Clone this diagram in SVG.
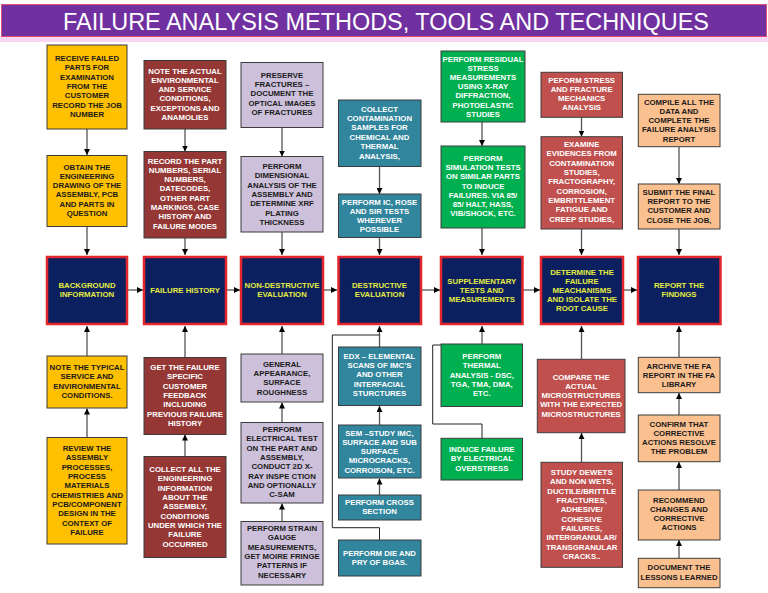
<svg xmlns="http://www.w3.org/2000/svg" width="768" height="593" viewBox="0 0 768 593">
<defs>
<marker id="ah" viewBox="0 0 6 6" refX="6" refY="3" markerWidth="6" markerHeight="6" markerUnits="userSpaceOnUse" orient="auto"><path d="M0,0 L6,3 L0,6 z" fill="#000"/></marker>
<style>
text{font-family:"Liberation Sans",Arial,sans-serif;font-weight:bold;font-size:7.8px;text-anchor:middle}
.b{stroke:#3c3c3c;stroke-width:1}
.yl{fill:#FFC000}.dr{fill:#953735}.lv{fill:#CCC0DA}.tl{fill:#31859C}.gn{fill:#00B050}.rd{fill:#C0504D}.pc{fill:#FAC090}
.mn{fill:#0C1F5E;stroke:#E3262B;stroke-width:2.5}
.tw{fill:#fff}.tk{fill:#1a1a1a}.ty{fill:#E4EC42}
.c{stroke:#555;stroke-width:1.3;fill:none}
.k{stroke:#222;stroke-width:1;fill:none}
</style>
</defs>
<rect width="768" height="593" fill="#fff"/>
<g id="title">
<rect x="0" y="36" width="768" height="6" fill="#FAD6F2"/>
<rect x="1.5" y="4.5" width="765" height="32" fill="#7030A0" stroke="#E05070" stroke-width="1"/>
<text x="386" y="29.5" style="font-weight:normal;font-size:23px;fill:#fff" textLength="646" lengthAdjust="spacingAndGlyphs">FAILURE ANALYSIS METHODS, TOOLS AND TECHNIQUES</text>
</g>
<g id="connectors">
<line class="c" x1="87" y1="129" x2="87" y2="155" marker-end="url(#ah)"/>
<line class="c" x1="87" y1="227" x2="87" y2="255" marker-end="url(#ah)"/>
<line class="c" x1="185" y1="129" x2="185" y2="151.5" marker-end="url(#ah)"/>
<line class="c" x1="185" y1="238" x2="185" y2="255" marker-end="url(#ah)"/>
<line class="c" x1="282" y1="127" x2="282" y2="156.5" marker-end="url(#ah)"/>
<line class="c" x1="282" y1="232" x2="282" y2="255" marker-end="url(#ah)"/>
<line class="c" x1="379.5" y1="167" x2="379.5" y2="194" marker-end="url(#ah)"/>
<line class="c" x1="379.5" y1="238" x2="379.5" y2="255" marker-end="url(#ah)"/>
<line class="c" x1="482" y1="122" x2="482" y2="146" marker-end="url(#ah)"/>
<line class="c" x1="482" y1="228" x2="482" y2="255" marker-end="url(#ah)"/>
<line class="c" x1="581.5" y1="117" x2="581.5" y2="136.5" marker-end="url(#ah)"/>
<line class="c" x1="581.5" y1="229" x2="581.5" y2="255" marker-end="url(#ah)"/>
<line class="c" x1="679" y1="147" x2="679" y2="184" marker-end="url(#ah)"/>
<line class="c" x1="679" y1="229" x2="679" y2="255" marker-end="url(#ah)"/>
<line class="c" x1="128" y1="290" x2="143" y2="290" marker-end="url(#ah)"/>
<line class="c" x1="227" y1="290" x2="240" y2="290" marker-end="url(#ah)"/>
<line class="c" x1="324" y1="290" x2="337" y2="290" marker-end="url(#ah)"/>
<line class="c" x1="422" y1="290" x2="440" y2="290" marker-end="url(#ah)"/>
<line class="c" x1="523" y1="290" x2="540" y2="290" marker-end="url(#ah)"/>
<line class="c" x1="624" y1="290" x2="637" y2="290" marker-end="url(#ah)"/>
<line class="c" x1="87" y1="356" x2="87" y2="326" marker-end="url(#ah)"/>
<line class="c" x1="87" y1="437.5" x2="87" y2="408.5" marker-end="url(#ah)"/>
<line class="c" x1="185" y1="357.5" x2="185" y2="326" marker-end="url(#ah)"/>
<line class="c" x1="185" y1="456.5" x2="185" y2="434.5" marker-end="url(#ah)"/>
<line class="c" x1="282" y1="354" x2="282" y2="326" marker-end="url(#ah)"/>
<line class="c" x1="282" y1="422.5" x2="282" y2="402.5" marker-end="url(#ah)"/>
<line class="c" x1="282" y1="521.5" x2="282" y2="503.5" marker-end="url(#ah)"/>
<line class="c" x1="379.5" y1="347" x2="379.5" y2="326" marker-end="url(#ah)"/>
<line class="c" x1="379.5" y1="425" x2="379.5" y2="406" marker-end="url(#ah)"/>
<line class="c" x1="379.5" y1="495" x2="379.5" y2="478.5" marker-end="url(#ah)"/>
<path class="k" d="M379.5,540 V527.7 H332.3 V335 H379.5"/>
<line class="c" x1="482" y1="344" x2="482" y2="326" marker-end="url(#ah)"/>
<path class="k" d="M482,438.3 V424 H432.7 V345 H482"/>
<line class="c" x1="581.5" y1="359" x2="581.5" y2="326" marker-end="url(#ah)"/>
<line class="c" x1="581.5" y1="462" x2="581.5" y2="433" marker-end="url(#ah)"/>
<line class="c" x1="679" y1="357" x2="679" y2="326" marker-end="url(#ah)"/>
<line class="c" x1="679" y1="415" x2="679" y2="393" marker-end="url(#ah)"/>
<line class="c" x1="679" y1="490" x2="679" y2="462" marker-end="url(#ah)"/>
<line class="c" x1="679" y1="558" x2="679" y2="540" marker-end="url(#ah)"/>
</g>
<g id="n-receive"><rect class="b yl" x="47" y="45" width="80" height="84"/><text class="tk" x="87" y="61.1"><tspan x="87">RECEIVE FAILED</tspan><tspan x="87" dy="9.3">PARTS FOR</tspan><tspan x="87" dy="9.3">EXAMINATION</tspan><tspan x="87" dy="9.3">FROM THE</tspan><tspan x="87" dy="9.3">CUSTOMER</tspan><tspan x="87" dy="9.3">RECORD THE JOB</tspan><tspan x="87" dy="9.3">NUMBER</tspan></text></g>
<g id="n-obtain"><rect class="b yl" x="47" y="155.5" width="80" height="71"/><text class="tk" x="87" y="169.5"><tspan x="87">OBTAIN THE</tspan><tspan x="87" dy="9.3">ENGINEERING</tspan><tspan x="87" dy="9.3">DRAWING OF THE</tspan><tspan x="87" dy="9.3">ASSEMBLY, PCB</tspan><tspan x="87" dy="9.3">AND PARTS IN</tspan><tspan x="87" dy="9.3">QUESTION</tspan></text></g>
<g id="n-background"><rect class="mn" x="47" y="257" width="80" height="67"/><text class="ty" x="87" y="287.8"><tspan x="87">BACKGROUND</tspan><tspan x="87" dy="9.2">INFORMATION</tspan></text></g>
<g id="n-typical"><rect class="b yl" x="47" y="356" width="80" height="52"/><text class="tk" x="87" y="370.1"><tspan x="87">NOTE THE TYPICAL</tspan><tspan x="87" dy="9.3">SERVICE AND</tspan><tspan x="87" dy="9.3">ENVIRONMENTAL</tspan><tspan x="87" dy="9.3">CONDITIONS.</tspan></text></g>
<g id="n-review"><rect class="b yl" x="47" y="437.5" width="80" height="106.5"/><text class="tk" x="87" y="451.1"><tspan x="87">REVIEW  THE</tspan><tspan x="87" dy="9.33">ASSEMBLY</tspan><tspan x="87" dy="9.33">PROCESSES,</tspan><tspan x="87" dy="9.33">PROCESS</tspan><tspan x="87" dy="9.33">MATERIALS</tspan><tspan x="87" dy="9.33">CHEMISTRIES AND</tspan><tspan x="87" dy="9.33">PCB/COMPONENT</tspan><tspan x="87" dy="9.33">DESIGN IN THE</tspan><tspan x="87" dy="9.33">CONTEXT OF</tspan><tspan x="87" dy="9.33">FAILURE</tspan></text></g>
<g id="n-actual"><rect class="b dr" x="144" y="60.5" width="82" height="68.5"/><text class="tw" x="185" y="73.5"><tspan x="185">NOTE THE ACTUAL</tspan><tspan x="185" dy="9.3">ENVIRONMENTAL</tspan><tspan x="185" dy="9.3">AND SERVICE</tspan><tspan x="185" dy="9.3">CONDITIONS,</tspan><tspan x="185" dy="9.3">EXCEPTIONS AND</tspan><tspan x="185" dy="9.3">ANAMOLIES</tspan></text></g>
<g id="n-record"><rect class="b dr" x="144" y="151.5" width="82" height="86.5"/><text class="tw" x="185" y="163.5"><tspan x="185">RECORD THE PART</tspan><tspan x="185" dy="9.33">NUMBERS, SERIAL</tspan><tspan x="185" dy="9.33">NUMBERS,</tspan><tspan x="185" dy="9.33">DATECODES,</tspan><tspan x="185" dy="9.33">OTHER PART</tspan><tspan x="185" dy="9.33">MARKINGS, CASE</tspan><tspan x="185" dy="9.33">HISTORY AND</tspan><tspan x="185" dy="9.33">FAILURE MODES</tspan></text></g>
<g id="n-failurehistory"><rect class="mn" x="144" y="257" width="82" height="67"/><text class="ty" x="185" y="292.8">FAILURE HISTORY</text></g>
<g id="n-getfailure"><rect class="b dr" x="144" y="357.5" width="82" height="77"/><text class="tw" x="185" y="370.1"><tspan x="185">GET THE FAILURE</tspan><tspan x="185" dy="9.33">SPECIFIC</tspan><tspan x="185" dy="9.33">CUSTOMER</tspan><tspan x="185" dy="9.33">FEEDBACK</tspan><tspan x="185" dy="9.33">INCLUDING</tspan><tspan x="185" dy="9.33">PREVIOUS FAILURE</tspan><tspan x="185" dy="9.33">HISTORY</tspan></text></g>
<g id="n-collectall"><rect class="b dr" x="144" y="456.5" width="82" height="101"/><text class="tw" x="185" y="472.1"><tspan x="185">COLLECT ALL THE</tspan><tspan x="185" dy="9.34">ENGINEERING</tspan><tspan x="185" dy="9.34">INFORMATION</tspan><tspan x="185" dy="9.34">ABOUT THE</tspan><tspan x="185" dy="9.34">ASSEMBLY,</tspan><tspan x="185" dy="9.34">CONDITIONS</tspan><tspan x="185" dy="9.34">UNDER WHICH THE</tspan><tspan x="185" dy="9.34">FAILURE</tspan><tspan x="185" dy="9.34">OCCURRED</tspan></text></g>
<g id="n-preserve"><rect class="b lv" x="241" y="62.5" width="82" height="65"/><text class="tk" x="282" y="77.8"><tspan x="282">PRESERVE</tspan><tspan x="282" dy="9.25">FRACTURES –</tspan><tspan x="282" dy="9.25">DOCUMENT THE</tspan><tspan x="282" dy="9.25">OPTICAL  IMAGES</tspan><tspan x="282" dy="9.25">OF FRACTURES</tspan></text></g>
<g id="n-dimensional"><rect class="b lv" x="241" y="156.5" width="82" height="75.5"/><text class="tk" x="282" y="168.8"><tspan x="282">PERFORM</tspan><tspan x="282" dy="9.4">DIMENSIONAL</tspan><tspan x="282" dy="9.4">ANALYSIS OF THE</tspan><tspan x="282" dy="9.4">ASSEMBLY AND</tspan><tspan x="282" dy="9.4">DETERMINE XRF</tspan><tspan x="282" dy="9.4">PLATING</tspan><tspan x="282" dy="9.4">THICKNESS</tspan></text></g>
<g id="n-nde"><rect class="mn" x="241" y="257" width="82" height="67"/><text class="ty" x="282" y="287.8"><tspan x="282">NON-DESTRUCTIVE</tspan><tspan x="282" dy="9.2">EVALUATION</tspan></text></g>
<g id="n-general"><rect class="b lv" x="241" y="354" width="82" height="48"/><text class="tk" x="282" y="366.8"><tspan x="282">GENERAL</tspan><tspan x="282" dy="9.33">APPEARANCE,</tspan><tspan x="282" dy="9.33">SURFACE</tspan><tspan x="282" dy="9.33">ROUGHNESS</tspan></text></g>
<g id="n-electrical"><rect class="b lv" x="241" y="422.5" width="82" height="80.5"/><text class="tk" x="282" y="432.1"><tspan x="282">PERFORM</tspan><tspan x="282" dy="9.29">ELECTRICAL TEST</tspan><tspan x="282" dy="9.29">ON THE PART AND</tspan><tspan x="282" dy="9.29">ASSEMBLY,</tspan><tspan x="282" dy="9.29">CONDUCT 2D  X-</tspan><tspan x="282" dy="9.29">RAY INSPE CTION</tspan><tspan x="282" dy="9.29">AND OPTIONALLY</tspan><tspan x="282" dy="9.29">C-SAM</tspan></text></g>
<g id="n-strain"><rect class="b lv" x="241" y="521.5" width="82" height="63.5"/><text class="tk" x="282" y="531.1"><tspan x="282">PERFORM STRAIN</tspan><tspan x="282" dy="9.34">GAUGE</tspan><tspan x="282" dy="9.34">MEASUREMENTS,</tspan><tspan x="282" dy="9.34">GET MOIRE FRINGE</tspan><tspan x="282" dy="9.34">PATTERNS  IF</tspan><tspan x="282" dy="9.34">NECESSARY</tspan></text></g>
<g id="n-contamination"><rect class="b tl" x="338.5" y="100" width="82.5" height="66.5"/><text class="tw" x="379.5" y="111.8"><tspan x="379.5">COLLECT</tspan><tspan x="379.5" dy="9.34">CONTAMINATION</tspan><tspan x="379.5" dy="9.34">SAMPLES FOR</tspan><tspan x="379.5" dy="9.34">CHEMICAL AND</tspan><tspan x="379.5" dy="9.34">THERMAL</tspan><tspan x="379.5" dy="9.34">ANALYSIS,</tspan></text></g>
<g id="n-ic"><rect class="b tl" x="338.5" y="194" width="82.5" height="43.5"/><text class="tw" x="379.5" y="204.5"><tspan x="379.5">PERFORM IC, ROSE</tspan><tspan x="379.5" dy="9.1">AND SIR TESTS</tspan><tspan x="379.5" dy="9.1">WHEREVER</tspan><tspan x="379.5" dy="9.1">POSSIBLE</tspan></text></g>
<g id="n-de"><rect class="mn" x="338.5" y="257" width="82.5" height="67"/><text class="ty" x="379.5" y="287.8"><tspan x="379.5">DESTRUCTIVE</tspan><tspan x="379.5" dy="9.2">EVALUATION</tspan></text></g>
<g id="n-edx"><rect class="b tl" x="338.5" y="347" width="82.5" height="58.5"/><text class="tw" x="379.5" y="358.8"><tspan x="379.5">EDX – ELEMENTAL</tspan><tspan x="379.5" dy="9.33">SCANS  OF IMC’S</tspan><tspan x="379.5" dy="9.33">AND OTHER</tspan><tspan x="379.5" dy="9.33">INTERFACIAL</tspan><tspan x="379.5" dy="9.33">STURCTURES</tspan></text></g>
<g id="n-sem"><rect class="b tl" x="338.5" y="425" width="82.5" height="53"/><text class="tw" x="379.5" y="435.5"><tspan x="379.5">SEM –STUDY  IMC,</tspan><tspan x="379.5" dy="9.33">SURFACE AND SUB</tspan><tspan x="379.5" dy="9.33">SURFACE</tspan><tspan x="379.5" dy="9.33">MICROCRACKS,</tspan><tspan x="379.5" dy="9.33">CORROISON, ETC.</tspan></text></g>
<g id="n-cross"><rect class="b tl" x="338.5" y="495" width="82.5" height="25"/><text class="tw" x="379.5" y="504.5"><tspan x="379.5">PERFORM CROSS</tspan><tspan x="379.5" dy="9.1">SECTION</tspan></text></g>
<g id="n-die"><rect class="b tl" x="338.5" y="540" width="82.5" height="36"/><text class="tw" x="379.5" y="556.1"><tspan x="379.5">PERFORM DIE AND</tspan><tspan x="379.5" dy="9.1">PRY OF BGAS.</tspan></text></g>
<g id="n-residual"><rect class="b gn" x="441" y="51" width="84" height="71"/><text class="tw" x="483" y="61.8"><tspan x="483">PERFORM RESIDUAL</tspan><tspan x="483" dy="9.17">STRESS</tspan><tspan x="483" dy="9.17">MEASUREMENTS</tspan><tspan x="483" dy="9.17">USING X-RAY</tspan><tspan x="483" dy="9.17">DIFFRACTION,</tspan><tspan x="483" dy="9.17">PHOTOELASTIC</tspan><tspan x="483" dy="9.17">STUDIES</tspan></text></g>
<g id="n-simulation"><rect class="b gn" x="441" y="146" width="84" height="82"/><text class="tw" x="483" y="161.1"><tspan x="483">PERFORM</tspan><tspan x="483" dy="9.17">SIMULATION TESTS</tspan><tspan x="483" dy="9.17">ON SIMILAR PARTS</tspan><tspan x="483" dy="9.17">TO INDUCE</tspan><tspan x="483" dy="9.17">FAILURES. VIA 85/</tspan><tspan x="483" dy="9.17">85/ HALT, HASS,</tspan><tspan x="483" dy="9.17">VIB/SHOCK, ETC.</tspan></text></g>
<g id="n-supplementary"><rect class="mn" x="441" y="257" width="81.5" height="67"/><text class="ty" x="481.8" y="283.5"><tspan x="481.8">SUPPLEMENTARY</tspan><tspan x="481.8" dy="9.2">TESTS AND</tspan><tspan x="481.8" dy="9.2">MEASUREMENTS</tspan></text></g>
<g id="n-thermal"><rect class="b gn" x="441" y="344" width="81.5" height="62.5"/><text class="tw" x="481.8" y="358.8"><tspan x="481.8">PERFORM</tspan><tspan x="481.8" dy="9.4">THERMAL</tspan><tspan x="481.8" dy="9.4">ANALYSIS - DSC,</tspan><tspan x="481.8" dy="9.4">TGA, TMA, DMA,</tspan><tspan x="481.8" dy="9.4">ETC.</tspan></text></g>
<g id="n-induce"><rect class="b gn" x="441" y="438.3" width="81.5" height="41.7"/><text class="tw" x="481.8" y="452.1"><tspan x="481.8">INDUCE FAILURE</tspan><tspan x="481.8" dy="9.33">BY ELECTRICAL</tspan><tspan x="481.8" dy="9.33">OVERSTRESS</tspan></text></g>
<g id="n-stress"><rect class="b rd" x="541" y="72.3" width="81.5" height="45"/><text class="tw" x="581.7" y="82.8"><tspan x="581.7">PEFORM STRESS</tspan><tspan x="581.7" dy="9.2">AND FRACTURE</tspan><tspan x="581.7" dy="9.2">MECHANICS</tspan><tspan x="581.7" dy="9.2">ANALYSIS</tspan></text></g>
<g id="n-examine"><rect class="b rd" x="541" y="136.7" width="81.5" height="92.3"/><text class="tw" x="581.7" y="147.1"><tspan x="581.7">EXAMINE</tspan><tspan x="581.7" dy="9.34">EVIDENCES FROM</tspan><tspan x="581.7" dy="9.34">CONTAMINATION</tspan><tspan x="581.7" dy="9.34">STUDIES,</tspan><tspan x="581.7" dy="9.34">FRACTOGRAPHY,</tspan><tspan x="581.7" dy="9.34">CORROSION,</tspan><tspan x="581.7" dy="9.34">EMBRITTLEMENT</tspan><tspan x="581.7" dy="9.34">FATIGUE AND</tspan><tspan x="581.7" dy="9.34">CREEP STUDIES,</tspan></text></g>
<g id="n-determine"><rect class="mn" x="541" y="257" width="82" height="67"/><text class="ty" x="582" y="274.5"><tspan x="582">DETERMINE THE</tspan><tspan x="582" dy="9.15">FAILURE</tspan><tspan x="582" dy="9.15">MEACHANISMS</tspan><tspan x="582" dy="9.15">AND ISOLATE THE</tspan><tspan x="582" dy="9.15">ROOT CAUSE</tspan></text></g>
<g id="n-compare"><rect class="b rd" x="537.3" y="359.3" width="87.7" height="73.4"/><text class="tw" x="581.2" y="379.5"><tspan x="581.2">COMPARE THE</tspan><tspan x="581.2" dy="9.33">ACTUAL</tspan><tspan x="581.2" dy="9.33">MICROSTRUCTURES</tspan><tspan x="581.2" dy="9.33">WITH THE EXPECTED</tspan><tspan x="581.2" dy="9.33">MICROSTRUCTURES</tspan></text></g>
<g id="n-dewets"><rect class="b rd" x="541" y="462.3" width="81.5" height="105"/><text class="tw" x="581.7" y="475.1"><tspan x="581.7">STUDY DEWETS</tspan><tspan x="581.7" dy="9.3">AND NON WETS,</tspan><tspan x="581.7" dy="9.3">DUCTILE/BRITTLE</tspan><tspan x="581.7" dy="9.3">FRACTURES,</tspan><tspan x="581.7" dy="9.3">ADHESIVE/</tspan><tspan x="581.7" dy="9.3">COHESIVE</tspan><tspan x="581.7" dy="9.3">FAILURES,</tspan><tspan x="581.7" dy="9.3">INTERGRANULAR/</tspan><tspan x="581.7" dy="9.3">TRANSGRANULAR</tspan><tspan x="581.7" dy="9.3">CRACKS..</tspan></text></g>
<g id="n-compile"><rect class="b pc" x="638.3" y="94.3" width="81.7" height="52.4"/><text class="tk" x="679" y="104.5"><tspan x="679">COMPILE ALL THE</tspan><tspan x="679" dy="9.33">DATA AND</tspan><tspan x="679" dy="9.33">COMPLETE THE</tspan><tspan x="679" dy="9.33">FAILURE ANALYSIS</tspan><tspan x="679" dy="9.33">REPORT</tspan></text></g>
<g id="n-submit"><rect class="b pc" x="638.3" y="184" width="81.7" height="45"/><text class="tk" x="679" y="194.8"><tspan x="679">SUBMIT THE FINAL</tspan><tspan x="679" dy="9.33">REPORT TO THE</tspan><tspan x="679" dy="9.33">CUSTOMER AND</tspan><tspan x="679" dy="9.33">CLOSE THE JOB,</tspan></text></g>
<g id="n-report"><rect class="mn" x="638" y="257" width="82.5" height="67"/><text class="ty" x="679" y="287.8"><tspan x="679">REPORT THE</tspan><tspan x="679" dy="9.2">FINDNGS</tspan></text></g>
<g id="n-archive"><rect class="b pc" x="638.3" y="357.3" width="81.7" height="35.4"/><text class="tk" x="679" y="368.5"><tspan x="679">ARCHIVE THE FA</tspan><tspan x="679" dy="9.15">REPORT IN THE  FA</tspan><tspan x="679" dy="9.15">LIBRARY</tspan></text></g>
<g id="n-confirm"><rect class="b pc" x="638.3" y="415" width="81.7" height="46.7"/><text class="tk" x="679" y="426.8"><tspan x="679">CONFIRM THAT</tspan><tspan x="679" dy="9.23">CORRECTIVE</tspan><tspan x="679" dy="9.23">ACTIONS RESOLVE</tspan><tspan x="679" dy="9.23">THE PROBLEM</tspan></text></g>
<g id="n-recommend"><rect class="b pc" x="638.3" y="490" width="81.7" height="50"/><text class="tk" x="679" y="502.8"><tspan x="679">RECOMMEND</tspan><tspan x="679" dy="9.23">CHANGES AND</tspan><tspan x="679" dy="9.23">CORRECTIVE</tspan><tspan x="679" dy="9.23">ACTIONS</tspan></text></g>
<g id="n-document"><rect class="b pc" x="638.3" y="558.3" width="81.7" height="29.4"/><text class="tk" x="679" y="570.1"><tspan x="679">DOCUMENT THE</tspan><tspan x="679" dy="9.4">LESSONS LEARNED</tspan></text></g>
</svg>
